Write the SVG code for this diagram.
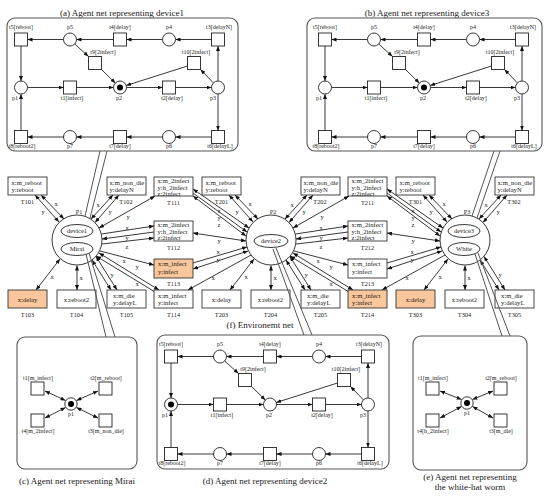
<svg xmlns="http://www.w3.org/2000/svg" width="550" height="497" viewBox="0 0 550 497">
<defs>
<marker id="ah" viewBox="0 0 10 8" refX="10" refY="4" markerWidth="5" markerHeight="4" markerUnits="userSpaceOnUse" orient="auto-start-reverse"><path d="M0,0L10,4L0,8z" fill="#111"/></marker>
<style>
text{font-family:"Liberation Serif","Times New Roman",serif;fill:#1a1a1a}
.tr,.pl{fill:#fff;stroke:#222;stroke-width:.9}
.tok{fill:#000}
.ae{fill:none;stroke:#222;stroke-width:.9;marker-end:url(#ah)}
.ab{fill:none;stroke:#222;stroke-width:.9;marker-start:url(#ah);marker-end:url(#ah)}
.lb{font-size:6px;text-anchor:middle}
.bx{fill:#fff;stroke:#333;stroke-width:.9}
.or{fill:#F9C79B}
.bt{font-size:6.6px}
.c{text-anchor:middle}
.tn{font-size:6.3px;text-anchor:middle}
.al{font-size:6.5px;text-anchor:middle}
.et{font-size:6.5px;text-anchor:middle}
.tl{font-size:9px;text-anchor:middle}
.panel{fill:none;stroke:#555;stroke-width:1.1}
.tail{fill:none;stroke:#555;stroke-width:1}
</style>
</defs>
<rect width="550" height="497" fill="#fff"/>

<!-- titles -->
<g id="titles">
<text class="tl" x="122" y="16">(a) Agent net representing device1</text>
<text class="tl" x="427" y="16">(b) Agent net representing device3</text>
<text class="tl" x="260" y="328">(f) Environemt net</text>
<text class="tl" x="77" y="484">(c) Agent net representing Mirai</text>
<text class="tl" x="265" y="484">(d) Agent net representing device2</text>
<text class="tl" x="470" y="480">(e) Agent net representing</text>
<text class="tl" x="470" y="490">the white-hat worm</text>
</g>

<!-- panel frames -->
<g id="frames">
<rect class="panel" x="7" y="18" width="231" height="133" rx="8"/>
<rect class="panel" x="307" y="18" width="235" height="133" rx="8"/>
<rect class="panel" x="17" y="337" width="120" height="132" rx="8"/>
<rect class="panel" x="157" y="335" width="232" height="134" rx="8"/>
<rect class="panel" x="413" y="336" width="114" height="134" rx="8"/>
</g>

<!-- ===== panel (a) ===== -->
<g id="net-a">
<g id="a-t5"><rect class="tr" x="14.5" y="33" width="13" height="13"/><text class="lb" x="21" y="28.5">t5[reboot]</text></g>
<g id="a-p5"><circle class="pl" cx="70" cy="39.5" r="6.5"/><text class="lb" x="70" y="28.5">p5</text></g>
<g id="a-t4"><rect class="tr" x="113.5" y="33" width="13" height="13"/><text class="lb" x="120" y="28.5">t4[delay]</text></g>
<g id="a-p4"><circle class="pl" cx="169" cy="39.5" r="6.5"/><text class="lb" x="169" y="28.5">p4</text></g>
<g id="a-t3"><rect class="tr" x="211.5" y="33" width="13" height="13"/><text class="lb" x="219" y="28.5">t3[delayN]</text></g>
<g id="a-t9"><rect class="tr" x="88.5" y="56.5" width="13" height="13"/><text class="lb" x="103" y="54">t9[2infect]</text></g>
<g id="a-t10"><rect class="tr" x="187.5" y="56.5" width="13" height="13"/><text class="lb" x="196" y="54">t10[2infect]</text></g>
<g id="a-p1"><circle class="pl" cx="21" cy="87.5" r="6.5"/><text class="lb" x="15" y="100">p1</text></g>
<g id="a-t1"><rect class="tr" x="63.5" y="81" width="13" height="13"/><text class="lb" x="72" y="100">t1[infect]</text></g>
<g id="a-p2"><circle class="pl" cx="120" cy="87.5" r="6.5"/><circle class="tok" cx="120" cy="87.5" r="3"/><text class="lb" x="119" y="100">p2</text></g>
<g id="a-t2"><rect class="tr" x="162.5" y="81" width="13" height="13"/><text class="lb" x="172" y="100">t2[delay]</text></g>
<g id="a-p3"><circle class="pl" cx="218" cy="87.5" r="6.5"/><text class="lb" x="213" y="100">p3</text></g>
<g id="a-t8"><rect class="tr" x="14.5" y="130.5" width="13" height="13"/><text class="lb" x="22" y="148">t8[reboot2]</text></g>
<g id="a-p7"><circle class="pl" cx="70" cy="137" r="6.5"/><text class="lb" x="70" y="147.5">p7</text></g>
<g id="a-t7"><rect class="tr" x="113.5" y="130.5" width="13" height="13"/><text class="lb" x="120" y="147.5">t7[delay]</text></g>
<g id="a-p6"><circle class="pl" cx="169" cy="137" r="6.5"/><text class="lb" x="169" y="147.5">p6</text></g>
<g id="a-t6"><rect class="tr" x="211.5" y="130.5" width="13" height="13"/><text class="lb" x="220" y="148">t6[delayL]</text></g>
<g id="a-arcs">
<path class="ae" d="M63.5,39.5H27.5"/><path class="ae" d="M113.5,39.5H76.5"/><path class="ae" d="M162.5,39.5H126.5"/><path class="ae" d="M211.5,39.5H175.5"/>
<path class="ae" d="M21,46V81"/><path class="ae" d="M27.5,87.5H63.5"/><path class="ae" d="M76.5,87.5H113.5"/><path class="ae" d="M126.5,87.5H162.5"/><path class="ae" d="M175.5,87.5H211.5"/>
<path class="ae" d="M218,81V46"/><path class="ae" d="M218,94V130.5"/><path class="ae" d="M213.4,82.9L200.5,69.5"/><path class="ae" d="M187.5,66L126.2,85.5"/>
<path class="ae" d="M74.7,44L88.5,56.5"/><path class="ae" d="M101.5,69.5L115.3,83"/>
<path class="ae" d="M211.5,137H175.5"/><path class="ae" d="M162.5,137H126.5"/><path class="ae" d="M113.5,137H76.5"/><path class="ae" d="M63.5,137H27.5"/><path class="ae" d="M21,130.5V94"/>
</g>
</g>

<!-- ===== panel (b) ===== -->
<g id="net-b" transform="translate(304,0)">
<g id="b-t5"><rect class="tr" x="14.5" y="33" width="13" height="13"/><text class="lb" x="21" y="28.5">t5[reboot]</text></g>
<g id="b-p5"><circle class="pl" cx="70" cy="39.5" r="6.5"/><text class="lb" x="70" y="28.5">p5</text></g>
<g id="b-t4"><rect class="tr" x="113.5" y="33" width="13" height="13"/><text class="lb" x="120" y="28.5">t4[delay]</text></g>
<g id="b-p4"><circle class="pl" cx="169" cy="39.5" r="6.5"/><text class="lb" x="169" y="28.5">p4</text></g>
<g id="b-t3"><rect class="tr" x="211.5" y="33" width="13" height="13"/><text class="lb" x="219" y="28.5">t3[delayN]</text></g>
<g id="b-t9"><rect class="tr" x="88.5" y="56.5" width="13" height="13"/><text class="lb" x="103" y="54">t9[2infect]</text></g>
<g id="b-t10"><rect class="tr" x="187.5" y="56.5" width="13" height="13"/><text class="lb" x="196" y="54">t10[2infect]</text></g>
<g id="b-p1"><circle class="pl" cx="21" cy="87.5" r="6.5"/><text class="lb" x="15" y="100">p1</text></g>
<g id="b-t1"><rect class="tr" x="63.5" y="81" width="13" height="13"/><text class="lb" x="72" y="100">t1[infect]</text></g>
<g id="b-p2"><circle class="pl" cx="120" cy="87.5" r="6.5"/><circle class="tok" cx="120" cy="87.5" r="3"/><text class="lb" x="119" y="100">p2</text></g>
<g id="b-t2"><rect class="tr" x="162.5" y="81" width="13" height="13"/><text class="lb" x="172" y="100">t2[delay]</text></g>
<g id="b-p3"><circle class="pl" cx="218" cy="87.5" r="6.5"/><text class="lb" x="213" y="100">p3</text></g>
<g id="b-t8"><rect class="tr" x="14.5" y="130.5" width="13" height="13"/><text class="lb" x="22" y="148">t8[reboot2]</text></g>
<g id="b-p7"><circle class="pl" cx="70" cy="137" r="6.5"/><text class="lb" x="70" y="147.5">p7</text></g>
<g id="b-t7"><rect class="tr" x="113.5" y="130.5" width="13" height="13"/><text class="lb" x="120" y="147.5">t7[delay]</text></g>
<g id="b-p6"><circle class="pl" cx="169" cy="137" r="6.5"/><text class="lb" x="169" y="147.5">p6</text></g>
<g id="b-t6"><rect class="tr" x="211.5" y="130.5" width="13" height="13"/><text class="lb" x="220" y="148">t6[delayL]</text></g>
<g id="b-arcs">
<path class="ae" d="M63.5,39.5H27.5"/><path class="ae" d="M113.5,39.5H76.5"/><path class="ae" d="M162.5,39.5H126.5"/><path class="ae" d="M211.5,39.5H175.5"/>
<path class="ae" d="M21,46V81"/><path class="ae" d="M27.5,87.5H63.5"/><path class="ae" d="M76.5,87.5H113.5"/><path class="ae" d="M126.5,87.5H162.5"/><path class="ae" d="M175.5,87.5H211.5"/>
<path class="ae" d="M218,81V46"/><path class="ae" d="M218,94V130.5"/><path class="ae" d="M213.4,82.9L200.5,69.5"/><path class="ae" d="M187.5,66L126.2,85.5"/>
<path class="ae" d="M74.7,44L88.5,56.5"/><path class="ae" d="M101.5,69.5L115.3,83"/>
<path class="ae" d="M211.5,137H175.5"/><path class="ae" d="M162.5,137H126.5"/><path class="ae" d="M113.5,137H76.5"/><path class="ae" d="M63.5,137H27.5"/><path class="ae" d="M21,130.5V94"/>
</g>
</g>

<!-- ===== panel (d) ===== -->
<g id="net-d" transform="translate(150,317)">
<g id="d-t5"><rect class="tr" x="14.5" y="33" width="13" height="13"/><text class="lb" x="21" y="28.5">t5[reboot]</text></g>
<g id="d-p5"><circle class="pl" cx="70" cy="39.5" r="6.5"/><text class="lb" x="70" y="28.5">p5</text></g>
<g id="d-t4"><rect class="tr" x="113.5" y="33" width="13" height="13"/><text class="lb" x="120" y="28.5">t4[delay]</text></g>
<g id="d-p4"><circle class="pl" cx="169" cy="39.5" r="6.5"/><text class="lb" x="169" y="28.5">p4</text></g>
<g id="d-t3"><rect class="tr" x="211.5" y="33" width="13" height="13"/><text class="lb" x="219" y="28.5">t3[delayN]</text></g>
<g id="d-t9"><rect class="tr" x="88.5" y="56.5" width="13" height="13"/><text class="lb" x="103" y="54">t9[2infect]</text></g>
<g id="d-t10"><rect class="tr" x="187.5" y="56.5" width="13" height="13"/><text class="lb" x="196" y="54">t10[2infect]</text></g>
<g id="d-p1"><circle class="pl" cx="21" cy="87.5" r="6.5"/><circle class="tok" cx="21" cy="87.5" r="3"/><text class="lb" x="15" y="100">p1</text></g>
<g id="d-t1"><rect class="tr" x="63.5" y="81" width="13" height="13"/><text class="lb" x="72" y="100">t1[infect]</text></g>
<g id="d-p2"><circle class="pl" cx="120" cy="87.5" r="6.5"/><text class="lb" x="119" y="100">p2</text></g>
<g id="d-t2"><rect class="tr" x="162.5" y="81" width="13" height="13"/><text class="lb" x="172" y="100">t2[delay]</text></g>
<g id="d-p3"><circle class="pl" cx="218" cy="87.5" r="6.5"/><text class="lb" x="213" y="100">p3</text></g>
<g id="d-t8"><rect class="tr" x="14.5" y="130.5" width="13" height="13"/><text class="lb" x="22" y="148">t8[reboot2]</text></g>
<g id="d-p7"><circle class="pl" cx="70" cy="137" r="6.5"/><text class="lb" x="70" y="147.5">p7</text></g>
<g id="d-t7"><rect class="tr" x="113.5" y="130.5" width="13" height="13"/><text class="lb" x="120" y="147.5">t7[delay]</text></g>
<g id="d-p6"><circle class="pl" cx="169" cy="137" r="6.5"/><text class="lb" x="169" y="147.5">p6</text></g>
<g id="d-t6"><rect class="tr" x="211.5" y="130.5" width="13" height="13"/><text class="lb" x="220" y="148">t6[delayL]</text></g>
<g id="d-arcs">
<path class="ae" d="M63.5,39.5H27.5"/><path class="ae" d="M113.5,39.5H76.5"/><path class="ae" d="M162.5,39.5H126.5"/><path class="ae" d="M211.5,39.5H175.5"/>
<path class="ae" d="M21,46V81"/><path class="ae" d="M27.5,87.5H63.5"/><path class="ae" d="M76.5,87.5H113.5"/><path class="ae" d="M126.5,87.5H162.5"/><path class="ae" d="M175.5,87.5H211.5"/>
<path class="ae" d="M218,81V46"/><path class="ae" d="M218,94V130.5"/><path class="ae" d="M213.4,82.9L200.5,69.5"/><path class="ae" d="M187.5,66L126.2,85.5"/>
<path class="ae" d="M74.7,44L88.5,56.5"/><path class="ae" d="M101.5,69.5L115.3,83"/>
<path class="ae" d="M211.5,137H175.5"/><path class="ae" d="M162.5,137H126.5"/><path class="ae" d="M113.5,137H76.5"/><path class="ae" d="M63.5,137H27.5"/><path class="ae" d="M21,130.5V94"/>
</g>
</g>

<!-- ===== panel (c) Mirai ===== -->
<g id="net-c">
<g id="c-p1"><circle class="pl" cx="71" cy="404" r="6.2"/><circle class="tok" cx="71" cy="404" r="3"/><text class="lb" x="71" y="416">p1</text></g>
<g id="c-t1"><rect class="tr" x="31" y="382" width="13" height="13"/><text class="lb" x="38" y="380">t1[m_infect]</text></g>
<g id="c-t2"><rect class="tr" x="99" y="382" width="13" height="13"/><text class="lb" x="106" y="380">t2[m_reboot]</text></g>
<g id="c-t4"><rect class="tr" x="31" y="414" width="13" height="13"/><text class="lb" x="38" y="433">t4[m_2infect]</text></g>
<g id="c-t3"><rect class="tr" x="99" y="414" width="13" height="13"/><text class="lb" x="106" y="433">t3[m_non_die]</text></g>
<g id="c-arcs">
<path class="ab" d="M45,391L65.5,400.5"/><path class="ab" d="M98,391L76.5,400.5"/>
<path class="ab" d="M45,418L65.5,407.5"/><path class="ab" d="M98,418L76.5,407.5"/>
</g>
</g>

<!-- ===== panel (e) White ===== -->
<g id="net-e">
<g id="e-p1"><circle class="pl" cx="467" cy="403" r="6.2"/><circle class="tok" cx="467" cy="403" r="3"/><text class="lb" x="467" y="415">p1</text></g>
<g id="e-t1"><rect class="tr" x="426" y="382" width="13" height="13"/><text class="lb" x="433" y="380">t1[m_infect]</text></g>
<g id="e-t2"><rect class="tr" x="494" y="382" width="13" height="13"/><text class="lb" x="501" y="380">t2[m_reboot]</text></g>
<g id="e-t4"><rect class="tr" x="426" y="414" width="13" height="13"/><text class="lb" x="433" y="433">t4[h_2infect]</text></g>
<g id="e-t3"><rect class="tr" x="494" y="414" width="13" height="13"/><text class="lb" x="501" y="433">t3[m_die]</text></g>
<g id="e-arcs">
<path class="ab" d="M440,391L461.5,399.5"/><path class="ab" d="M493,391L472.5,399.5"/>
<path class="ab" d="M440,418L461.5,406.5"/><path class="ab" d="M493,418L472.5,406.5"/>
</g>
</g>

<!-- ===== environment net connectors ===== -->
<g id="env-arcs">
<g id="arcs-1">
<path class="ab" d="M41,195L64,219"/><path class="ab" d="M35,195L59,222"/>
<path class="ab" d="M113,195L91,219"/><path class="ab" d="M119,195L95,222.5"/>
<path class="ab" d="M36,290L60,259"/><path class="ab" d="M77,290V265.5"/>
<path class="ab" d="M111,290L92,260"/><path class="ab" d="M117,290L96,256.5"/>
<path class="ab" d="M155,196L99,228"/>
<path class="ae" d="M101.5,234L154,226"/><path class="ae" d="M154,232L102,239"/><path class="ae" d="M102,244L154,238"/>
<path class="ae" d="M100,251L154,265"/>
<path class="ab" d="M99,253L159,290"/><path class="ae" d="M155,292L96,256"/>
<path class="ab" d="M193,189L249,228"/><path class="ae" d="M193,193L247,232"/><path class="ab" d="M193,196L246,236"/>
<path class="ab" d="M193,233L246,241"/>
<path class="ae" d="M193,263L247,247"/><path class="ab" d="M193,269L248,251"/>
<path class="ae" d="M251,255L188,290"/>
<text class="al" x="56" y="206">x</text><text class="al" x="43" y="214">y</text>
<text class="al" x="98" y="207">x</text><text class="al" x="110" y="214">y</text>
<text class="al" x="52" y="279">x</text><text class="al" x="81" y="280">x</text>
<text class="al" x="112" y="277">y</text>
<text class="al" x="128" y="219">y</text>
<text class="al" x="127" y="230">x</text><text class="al" x="127" y="239.5">y</text><text class="al" x="127" y="249">z</text>
<text class="al" x="124" y="262.5">x</text>
<text class="al" x="137" y="269">y</text><text class="al" x="137" y="286">x</text>
<text class="al" x="219" y="213">x</text><text class="al" x="219" y="220">y</text><text class="al" x="219" y="227">z</text>
<text class="al" x="219" y="243">y</text>
<text class="al" x="218" y="254">x</text><text class="al" x="218" y="262">y</text>
<text class="al" x="213" y="280">x</text>
</g>
<g id="arcs-2" transform="translate(194,0)">
<path class="ab" d="M41,195L64,219"/><path class="ab" d="M35,195L59,222"/>
<path class="ab" d="M113,195L91,219"/><path class="ab" d="M119,195L95,222.5"/>
<path class="ab" d="M36,290L60,259"/><path class="ab" d="M77,290V265.5"/>
<path class="ab" d="M111,290L92,260"/><path class="ab" d="M117,290L96,256.5"/>
<path class="ab" d="M155,196L99,228"/>
<path class="ae" d="M101.5,234L154,226"/><path class="ae" d="M154,232L102,239"/><path class="ae" d="M102,244L154,238"/>
<path class="ae" d="M100,251L154,265"/>
<path class="ab" d="M99,253L159,290"/><path class="ae" d="M155,292L96,256"/>
<path class="ab" d="M193,189L249,228"/><path class="ae" d="M193,193L247,232"/><path class="ab" d="M193,196L246,236"/>
<path class="ab" d="M193,233L246,241"/>
<path class="ae" d="M193,263L247,247"/><path class="ab" d="M193,269L248,251"/>
<path class="ae" d="M251,255L188,290"/>
<text class="al" x="56" y="206">x</text><text class="al" x="43" y="214">y</text>
<text class="al" x="98" y="207">x</text><text class="al" x="110" y="214">y</text>
<text class="al" x="52" y="279">x</text><text class="al" x="81" y="280">x</text>
<text class="al" x="112" y="277">y</text>
<text class="al" x="128" y="219">y</text>
<text class="al" x="127" y="230">x</text><text class="al" x="127" y="239.5">y</text><text class="al" x="127" y="249">z</text>
<text class="al" x="124" y="262.5">x</text>
<text class="al" x="137" y="269">y</text><text class="al" x="137" y="286">x</text>
<text class="al" x="219" y="213">x</text><text class="al" x="219" y="220">y</text><text class="al" x="219" y="227">z</text>
<text class="al" x="219" y="243">y</text>
<text class="al" x="218" y="254">x</text><text class="al" x="218" y="262">y</text>
<text class="al" x="213" y="280">x</text>
</g>
<g id="arcs-3" transform="translate(388,0)">
<path class="ab" d="M41,195L64,219"/><path class="ab" d="M35,195L59,222"/>
<path class="ab" d="M113,195L91,219"/><path class="ab" d="M119,195L95,222.5"/>
<path class="ab" d="M36,290L60,259"/><path class="ab" d="M77,290V265.5"/>
<path class="ab" d="M111,290L92,260"/><path class="ab" d="M117,290L96,256.5"/>
<text class="al" x="56" y="206">x</text><text class="al" x="43" y="214">y</text>
<text class="al" x="98" y="207">x</text><text class="al" x="110" y="214">y</text>
<text class="al" x="52" y="279">x</text><text class="al" x="81" y="280">x</text>
<text class="al" x="112" y="277">y</text>
</g>
</g>

<!-- ===== environment places ===== -->
<g id="P1"><circle class="pl" cx="77" cy="240" r="25"/><ellipse class="pl" cx="77" cy="231" rx="16" ry="6.5"/><text class="et" x="77" y="233.3">device1</text><ellipse class="pl" cx="77" cy="249" rx="16" ry="6.5"/><text class="et" x="77" y="251.3">Mirai</text><text class="tn" x="79" y="214">P1</text></g>
<g id="P2"><circle class="pl" cx="271" cy="240" r="25"/><ellipse class="pl" cx="271" cy="241" rx="17" ry="6.5"/><text class="et" x="271" y="243.3">device2</text><text class="tn" x="273" y="214">P2</text></g>
<g id="P3"><circle class="pl" cx="465" cy="240" r="25"/><ellipse class="pl" cx="464" cy="231" rx="16" ry="6.5"/><text class="et" x="464" y="233.3">device3</text><ellipse class="pl" cx="464" cy="249" rx="16" ry="6.5"/><text class="et" x="464" y="251.3">White</text><text class="tn" x="467" y="214">P3</text></g>

<!-- ===== environment transitions ===== -->
<g id="T101"><rect class="bx" x="8" y="177" width="39" height="18"/><text class="bt" x="11.5" y="184.5">x:m_reboot</text><text class="bt" x="11.5" y="192">y:reboot</text><text class="tn" x="27.5" y="204">T101</text></g>
<g id="T102"><rect class="bx" x="107" y="177" width="39" height="18"/><text class="bt" x="109.5" y="184.5">x:m_non_die</text><text class="bt" x="109.5" y="192">y:delayN</text><text class="tn" x="126" y="204">T102</text></g>
<g id="T103"><rect class="bx or" x="8" y="290" width="39" height="18"/><text class="bt c" x="27.5" y="301.5">x:delay</text><text class="tn" x="27.5" y="317">T103</text></g>
<g id="T104"><rect class="bx" x="57" y="290" width="39" height="18"/><text class="bt c" x="76.5" y="301.5">x:reboot2</text><text class="tn" x="76.5" y="317">T104</text></g>
<g id="T105"><rect class="bx" x="107" y="290" width="39" height="18"/><text class="bt" x="113" y="297.5">x:m_die</text><text class="bt" x="113" y="305">y:delayL</text><text class="tn" x="126.5" y="317">T105</text></g>
<g id="T111"><rect class="bx" x="154" y="177" width="39" height="19"/><text class="bt" x="157.5" y="183">x:m_2infect</text><text class="bt" x="157.5" y="189.5">y:h_2infect</text><text class="bt" x="157.5" y="196">z:2infect</text><text class="tn" x="173.5" y="204.5">T111</text></g>
<g id="T112"><rect class="bx" x="154" y="221" width="39" height="20"/><text class="bt" x="157.5" y="227">x:m_2infect</text><text class="bt" x="157.5" y="233.5">y:h_2infect</text><text class="bt" x="157.5" y="240">z:2infect</text><text class="tn" x="173.5" y="249.5">T112</text></g>
<g id="T113"><rect class="bx or" x="154" y="259" width="39" height="19"/><text class="bt" x="158" y="266">x:m_infect</text><text class="bt" x="158" y="274">y:infect</text><text class="tn" x="173.5" y="286">T113</text></g>
<g id="T114"><rect class="bx" x="154" y="290" width="39" height="18"/><text class="bt" x="158" y="297.5">x:m_infect</text><text class="bt" x="158" y="305">y:infect</text><text class="tn" x="173.5" y="317">T114</text></g>

<g id="T201"><rect class="bx" x="202" y="177" width="39" height="18"/><text class="bt" x="205.5" y="184.5">x:m_reboot</text><text class="bt" x="205.5" y="192">y:reboot</text><text class="tn" x="221.5" y="204">T201</text></g>
<g id="T202"><rect class="bx" x="301" y="177" width="39" height="18"/><text class="bt" x="303.5" y="184.5">x:m_non_die</text><text class="bt" x="303.5" y="192">y:delayN</text><text class="tn" x="320" y="204">T202</text></g>
<g id="T203"><rect class="bx" x="202" y="290" width="39" height="18"/><text class="bt c" x="221.5" y="301.5">x:delay</text><text class="tn" x="221.5" y="317">T203</text></g>
<g id="T204"><rect class="bx" x="251" y="290" width="39" height="18"/><text class="bt c" x="270.5" y="301.5">x:reboot2</text><text class="tn" x="270.5" y="317">T204</text></g>
<g id="T205"><rect class="bx" x="301" y="290" width="39" height="18"/><text class="bt" x="307" y="297.5">x:m_die</text><text class="bt" x="307" y="305">y:delayL</text><text class="tn" x="320.5" y="317">T205</text></g>
<g id="T211"><rect class="bx" x="348" y="177" width="39" height="19"/><text class="bt" x="351.5" y="183">x:m_2infect</text><text class="bt" x="351.5" y="189.5">y:h_2infect</text><text class="bt" x="351.5" y="196">z:2infect</text><text class="tn" x="367.5" y="204.5">T211</text></g>
<g id="T212"><rect class="bx" x="348" y="221" width="39" height="20"/><text class="bt" x="351.5" y="227">x:m_2infect</text><text class="bt" x="351.5" y="233.5">y:h_2infect</text><text class="bt" x="351.5" y="240">z:2infect</text><text class="tn" x="367.5" y="249.5">T212</text></g>
<g id="T213"><rect class="bx" x="348" y="259" width="39" height="19"/><text class="bt" x="352" y="266">x:m_infect</text><text class="bt" x="352" y="274">y:infect</text><text class="tn" x="367.5" y="286">T213</text></g>
<g id="T214"><rect class="bx or" x="348" y="290" width="39" height="18"/><text class="bt" x="352" y="297.5">x:m_infect</text><text class="bt" x="352" y="305">y:infect</text><text class="tn" x="367.5" y="317">T214</text></g>

<g id="T301"><rect class="bx" x="396" y="177" width="39" height="18"/><text class="bt" x="399.5" y="184.5">x:m_reboot</text><text class="bt" x="399.5" y="192">y:reboot</text><text class="tn" x="415.5" y="204">T301</text></g>
<g id="T302"><rect class="bx" x="495" y="177" width="39" height="18"/><text class="bt" x="497.5" y="184.5">x:m_non_die</text><text class="bt" x="497.5" y="192">y:delayN</text><text class="tn" x="514" y="204">T302</text></g>
<g id="T303"><rect class="bx or" x="396" y="290" width="39" height="18"/><text class="bt c" x="415.5" y="301.5">x:delay</text><text class="tn" x="415.5" y="317">T303</text></g>
<g id="T304"><rect class="bx" x="445" y="290" width="39" height="18"/><text class="bt c" x="464.5" y="301.5">x:reboot2</text><text class="tn" x="464.5" y="317">T304</text></g>
<g id="T305"><rect class="bx" x="495" y="290" width="39" height="18"/><text class="bt" x="501" y="297.5">x:m_die</text><text class="bt" x="501" y="305">y:delayL</text><text class="tn" x="514.5" y="317">T305</text></g>

<!-- ===== callout tails ===== -->
<g id="tails">
<path class="tail" d="M100,151L85,216M107,151L90,218"/>
<path class="tail" d="M494,151L472,216M500,151L477,218"/>
<path class="tail" d="M86,254L106,337M89,253L115,337"/>
<path class="tail" d="M273,249L304,335M276,248L312,335"/>
<path class="tail" d="M475,254L502,336M478,253L510,336"/>
</g>
</svg>
